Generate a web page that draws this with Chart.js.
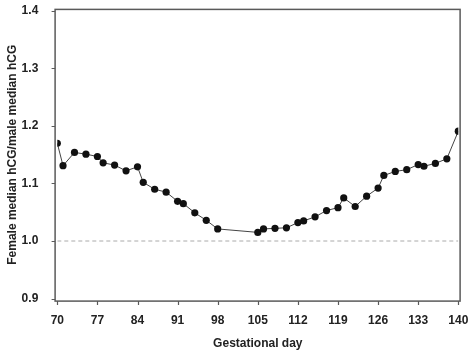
<!DOCTYPE html>
<html>
<head>
<meta charset="utf-8">
<script src="https://cdn.jsdelivr.net/npm/chart.js@4/dist/chart.umd.min.js"></script>
<style>
html,body{margin:0;padding:0;background:#fff;}
#wrap{width:474px;height:355px;position:relative;}
canvas{display:block;}
</style>
</head>
<body>
<div id="wrap"><canvas id="c" width="474" height="355"></canvas></div>
<script>
const days = [70,71,73,75,77,78,80,82,84,85,87,89,91,92,94,96,98,105,106,108,110,112,113,115,117,119,120,122,124,126,127,129,131,133,134,136,138,140];
const ratios = [1.170,1.131,1.154,1.151,1.147,1.136,1.132,1.122,1.129,1.102,1.090,1.085,1.069,1.065,1.049,1.036,1.021,1.015,1.021,1.022,1.023,1.032,1.035,1.042,1.053,1.058,1.075,1.060,1.078,1.092,1.114,1.121,1.124,1.133,1.130,1.135,1.143,1.191];
const refDays = [70,140];
const refValues = [1.0,1.0];
const xTicks = [70,77,84,91,98,105,112,119,126,133,140];
const yTicks = [0.9,1.0,1.1,1.2,1.3,1.4];
const xTitle = 'Gestational day';
const yTitle = 'Female median hCG/male median hCG';

// frame drawn slightly outside the data area, with tick marks placed via the scales
const boxPlugin = {
  id:'box',
  afterDraw(chart){
    const a = chart.chartArea, ctx = chart.ctx;
    const xs = chart.scales.x, ys = chart.scales.y;
    const L = a.left - 2.2, T = a.top - 1.6, R = a.right + 1.8, B = a.bottom + 2.6;
    ctx.save();
    ctx.strokeStyle = '#5a5a5a';
    ctx.lineWidth = 1.5;
    ctx.strokeRect(L, T, R - L, B - T);
    ctx.lineWidth = 1.2;
    ctx.beginPath();
    xTicks.forEach(v=>{ const px = Math.round(xs.getPixelForValue(v)) + 0.5; ctx.moveTo(px, B); ctx.lineTo(px, B + 4); });
    yTicks.forEach(v=>{ const py = Math.round(ys.getPixelForValue(v)) + 0.5; ctx.moveTo(L, py); ctx.lineTo(L - 3.5, py); });
    ctx.stroke();
    ctx.restore();
  }
};

const font = {family:'"Liberation Sans", Arial, sans-serif', size:12, weight:'bold'};

new Chart(document.getElementById('c'), {
  type:'scatter',
  data:{
    datasets:[
      {
        data: refDays.map((d,i)=>({x:d,y:refValues[i]})),
        showLine:true, borderColor:'#aaaaaa', borderWidth:1, borderDash:[4,3],
        pointRadius:0, order:2
      },
      {
        data: days.map((d,i)=>({x:d,y:ratios[i]})),
        showLine:true, borderColor:'#444', borderWidth:1,
        pointRadius:3.6, pointBackgroundColor:'#111', pointBorderColor:'#111', pointBorderWidth:0,
        order:1
      }
    ]
  },
  options:{
    responsive:false, animation:false,
    devicePixelRatio:1,
    layout:{padding:{left:0, right:15.7, top:11, bottom:0}},
    plugins:{legend:{display:false}, tooltip:{enabled:false}},
    scales:{
      x:{
        type:'linear', min:70, max:140,
        afterBuildTicks(s){ s.ticks = xTicks.map(v=>({value:v})); },
        afterFit(s){ s.height = 56.5; s.paddingLeft = 0; s.paddingRight = 0; },
        grid:{display:false},
        border:{display:false},
        ticks:{color:'#222', font:font, padding:7, maxRotation:0, autoSkip:false},
        title:{display:true, text:xTitle, color:'#222', font:font, padding:{top:4,bottom:4}}
      },
      y:{
        type:'linear', min:0.9, max:1.4,
        afterBuildTicks(s){ s.ticks = yTicks.map(v=>({value:v})); },
        afterFit(s){ s.width = 57.3; s.paddingTop = 0; s.paddingBottom = 0; },
        grid:{display:false},
        border:{display:false},
        ticks:{color:'#222', font:font, padding:11, callback:v=>Number(v).toFixed(1)},
        title:{display:true, text:yTitle, color:'#222', font:font, padding:{top:5,bottom:4}}
      }
    }
  },
  plugins:[boxPlugin]
});
</script>
</body>
</html>
